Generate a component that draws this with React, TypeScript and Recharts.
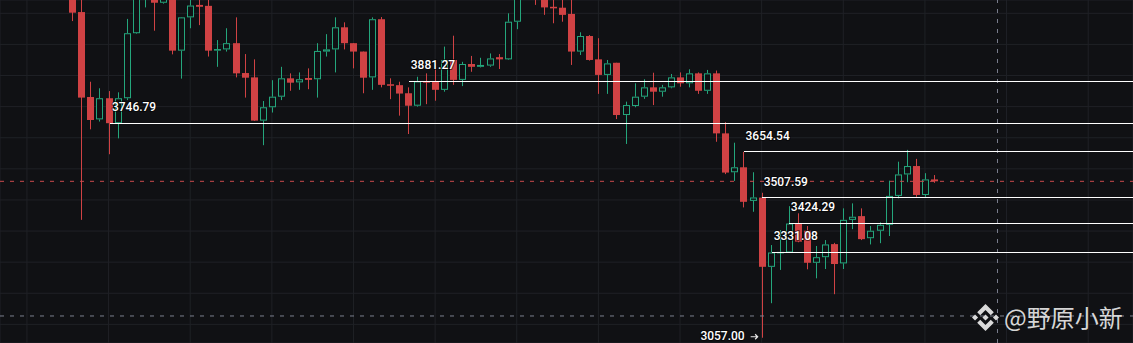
import { ComposedChart, Bar, XAxis, YAxis, CartesianGrid, ReferenceLine, ReferenceDot } from 'recharts'

// ── Canvas / palette ─────────────────────────────────────────────────────────
const W = 1133
const H = 343
const BG = '#101114'
const GRID = '#1f2126'
const UP = '#24a67c'
const DOWN = '#d04244'
const LEVEL = '#ffffff'

// ── Candles (one entry per bar, left to right) ───────────────────────────────
const opens = [
  4180, 4104, 3831, 3759, 3827, 3746.79, 3827, 4036, 4170, 4160,
  4134, 4150, 3980, 4087, 4127, 4124, 3980, 3984, 4004, 3908,
  3894, 3755, 3798, 3832, 3891, 3878, 3892, 3888, 3977, 3984,
  4055, 4004, 3977, 3894, 4081, 3872, 3869, 3843, 3803, 3881,
  3880, 3854, 3950, 3886, 3937, 3928, 3932, 3959, 3952, 4073,
  4160, 4200, 4170, 4121, 4118, 4098, 3977, 4027, 3952, 3902,
  3941, 3773, 3802, 3832, 3862, 3848, 3862, 3894, 3875, 3907,
  3851, 3907, 3714, 3589, 3605, 3497, 3507.59, 3285, 3331, 3331,
  3423, 3401, 3298, 3316, 3358, 3296, 3436, 3448, 3377, 3401,
  3420, 3513, 3582, 3609, 3516, 3566,
]
const highs = [
  4200, 4150, 3880, 3859, 3850, 3846, 4082, 4180, 4220, 4170,
  4160, 4160, 4088, 4150, 4150, 4150, 4014, 4052, 4087, 3969,
  3952, 3818, 3885, 3928, 3907, 3910, 3923, 4004, 4033, 4087,
  4071, 4004, 3977, 4087, 4088, 3891, 3880, 3862, 3896, 3907,
  3936, 3993, 4028, 3944, 3963, 3957, 3971, 3969, 4100, 4170,
  4200, 4210, 4180, 4150, 4150, 4145, 4039, 4030, 4020, 3950,
  3941, 3816, 3875, 3888, 3909, 3870, 3905, 3910, 3920, 3910,
  3918, 3916, 3750, 3684, 3654.54, 3589, 3523, 3355, 3403, 3480,
  3457, 3416, 3352, 3371, 3362, 3473, 3489, 3473, 3416, 3428,
  3562, 3623, 3661, 3632, 3586, 3580,
]
const lows = [
  4075, 3436, 3727, 3752, 3647, 3698, 3821, 4034, 4119, 4044,
  4131, 3968, 3890, 4052, 4062, 3961, 3928, 3977, 3894, 3829,
  3754, 3676, 3781, 3821, 3851, 3854, 3856, 3829, 3961, 3910,
  3984, 3923, 3843, 3854, 3862, 3824, 3771, 3712, 3800, 3808,
  3819, 3848, 3870, 3866, 3912, 3926, 3928, 3921, 3950, 4049,
  4150, 4127, 4095, 4068, 4073, 3934, 3966, 3948, 3841, 3841,
  3760, 3680, 3798, 3825, 3805, 3832, 3859, 3864, 3862, 3841,
  3841, 3687, 3583, 3561, 3476, 3462, 3057, 3168, 3275, 3330,
  3364, 3277, 3248, 3278, 3197, 3278, 3406, 3371, 3357, 3361,
  3384, 3505, 3557, 3510, 3510, 3555,
]
const closes = [
  4102, 3829, 3757, 3827, 3746.79, 3827, 4036, 4160, 4200, 4134,
  4150, 3980, 4087, 4125, 4121, 3980, 3985, 4004, 3907, 3893,
  3755, 3798, 3832, 3891, 3877, 3888, 3886, 3979, 3984, 4055,
  4004, 3977, 3893, 4081, 3870, 3867, 3842, 3803, 3881.27, 3877,
  3854, 3950, 3886, 3937, 3928, 3934, 3955, 3952, 4073, 4150,
  4190, 4160, 4119, 4116, 4095, 3977, 4027, 3950, 3902, 3939,
  3773, 3805, 3832, 3862, 3848, 3862, 3894, 3875, 3907, 3851,
  3907, 3714, 3588, 3605, 3494, 3508, 3285, 3331.08, 3333, 3424.29,
  3366, 3298, 3316, 3357, 3294, 3436, 3446, 3374, 3401, 3420,
  3513, 3582, 3609, 3516, 3566, 3559.9,
]

// ── Marked levels (price, bar index where the line starts) ───────────────────
const levelPrices = [3746.79, 3881.27, 3654.54, 3507.59, 3424.29, 3331.08]
const levelStarts = [4.15, 37.1, 74, 76, 79, 77.1]
const lowIndex = 76
const lowPrice = 3057.0
const lastPrice = 3559.9
const crossIndex = 102
const crossPrice = 3127

// ── Scales ───────────────────────────────────────────────────────────────────
const X_DOMAIN: [number, number] = [-7.97, 116.94]
const Y_DOMAIN: [number, number] = [3040.1, 4142.8]
const priceTicks = [3100, 3200, 3300, 3400, 3500, 3600, 3700, 3800, 3900, 4000, 4100]
const timeTicks = [-5, 4, 13, 22, 31, 40, 49, 58, 67, 76, 85, 94, 103, 112]

const data = opens.map((o, i) => ({
  i,
  range: [lows[i], highs[i]],
  o,
  h: highs[i],
  l: lows[i],
  c: closes[i],
}))

const fmt = (v: number) => v.toFixed(2)

function Candle(props: any) {
  const { x, y, width, height, payload } = props
  if (!payload) return null
  const { o, h, l, c } = payload
  const k = height / (h - l || 1)
  const cx = Math.round(x + width / 2)
  const top = y + (h - Math.max(o, c)) * k
  const bot = y + (h - Math.min(o, c)) * k
  const up = c >= o
  const color = up ? UP : DOWN
  const bodyH = Math.max(1, bot - top)
  if (up) {
    return (
      <g>
        <line x1={cx + 0.5} x2={cx + 0.5} y1={y} y2={top} stroke={color} strokeWidth={1} />
        <line x1={cx + 0.5} x2={cx + 0.5} y1={top + bodyH} y2={y + height} stroke={color} strokeWidth={1} />
        <rect x={cx - 2.5} y={top + 0.5} width={6} height={Math.max(0.5, bodyH - 1)} fill={BG} stroke={color} strokeWidth={1} />
      </g>
    )
  }
  return (
    <g>
      <line x1={cx + 0.5} x2={cx + 0.5} y1={y} y2={y + height} stroke={color} strokeWidth={1} />
      <rect x={cx - 3} y={top} width={7} height={bodyH} fill={color} />
    </g>
  )
}

const labelStyle = {
  fontFamily: 'Roboto, "Noto Sans", sans-serif',
  fontSize: 12,
  fontWeight: 500,
  fill: '#ffffff',
  stroke: 'rgba(0,0,0,0.55)',
  strokeWidth: 2,
  paintOrder: 'stroke' as const,
}

function LevelLabel({ viewBox, text }: any) {
  if (!viewBox) return null
  return (
    <text x={viewBox.x + 2} y={viewBox.y - 12} style={labelStyle}>
      {text}
    </text>
  )
}

function LowLabel({ viewBox, text }: any) {
  if (!viewBox) return null
  const ax = viewBox.x - 11
  const ay = viewBox.y - 1
  return (
    <g>
      <text x={viewBox.x - 17} y={viewBox.y + 2.5} textAnchor="end" style={labelStyle}>
        {text}
      </text>
      <path d={`M${ax} ${ay}H${ax + 7}M${ax + 4.5} ${ay - 2.5}L${ax + 7} ${ay}L${ax + 4.5} ${ay + 2.5}`} stroke="#e8e8e8" strokeWidth={1.2} fill="none" />
    </g>
  )
}

function BinanceMark() {
  return (
    <svg width={27} height={27} viewBox="0 0 126.61 126.61">
      <g fill="rgba(235,235,235,0.92)">
        <path d="M38.73 53.2l24.59-24.58 24.6 24.6 14.3-14.31L63.32 0 24.42 38.9l14.31 14.3M0 63.31l14.3-14.31 14.31 14.31-14.31 14.3zM38.73 73.41l24.59 24.59 24.6-24.6 14.31 14.29-38.9 38.91-38.91-38.88-.02-.02 14.33-14.29M98.24 63.31l14.3-14.31 14.31 14.3-14.31 14.31z" />
        <path d="M77.83 63.3L63.32 48.78 52.59 59.51l-1.24 1.23-2.54 2.54 14.51 14.5 14.51-14.47z" />
      </g>
    </svg>
  )
}

export default function App() {
  return (
    <div style={{ position: 'absolute', left: 0, top: 0, width: W, height: H, background: BG, overflow: 'hidden' }}>
      <ComposedChart width={W} height={H} data={data} margin={{ top: 0, right: 0, bottom: 0, left: 0 }}>
        <CartesianGrid stroke={GRID} strokeWidth={1} />
        <XAxis dataKey="i" type="number" domain={X_DOMAIN} ticks={timeTicks} hide allowDataOverflow />
        <YAxis type="number" domain={Y_DOMAIN} ticks={priceTicks} hide allowDataOverflow />

        <ReferenceLine y={lastPrice} stroke="#c84a4d" strokeDasharray="4 6" strokeWidth={1} />
        <ReferenceLine y={crossPrice} stroke="#7b7f8e" strokeDasharray="4 6" strokeWidth={1} />
        <ReferenceLine x={crossIndex} stroke="#7b7f8e" strokeDasharray="4 6" strokeWidth={1} />

        <Bar dataKey="range" barSize={7} shape={(p: any) => <Candle {...p} />} isAnimationActive={false} />

        {levelPrices.map((v, k) => (
          <ReferenceLine
            key={v}
            segment={[{ x: levelStarts[k], y: v }, { x: X_DOMAIN[1], y: v }]}
            stroke={LEVEL}
            strokeWidth={1}
            shapeRendering="crispEdges"
            label={<LevelLabel text={fmt(v)} />}
          />
        ))}
        <ReferenceDot x={lowIndex} y={lowPrice} r={0} fill="none" stroke="none" label={<LowLabel text={fmt(lowPrice)} />} />
      </ComposedChart>

      <div
        style={{
          position: 'absolute', left: 972, top: 301, display: 'flex', alignItems: 'center', gap: 5,
          pointerEvents: 'none',
        }}
      >
        <BinanceMark />
        <span style={{ fontFamily: '"Noto Sans CJK SC", sans-serif', fontSize: 24, color: 'rgba(235,235,235,0.92)', lineHeight: '32px' }}>
          @野原小新
        </span>
      </div>
    </div>
  )
}
